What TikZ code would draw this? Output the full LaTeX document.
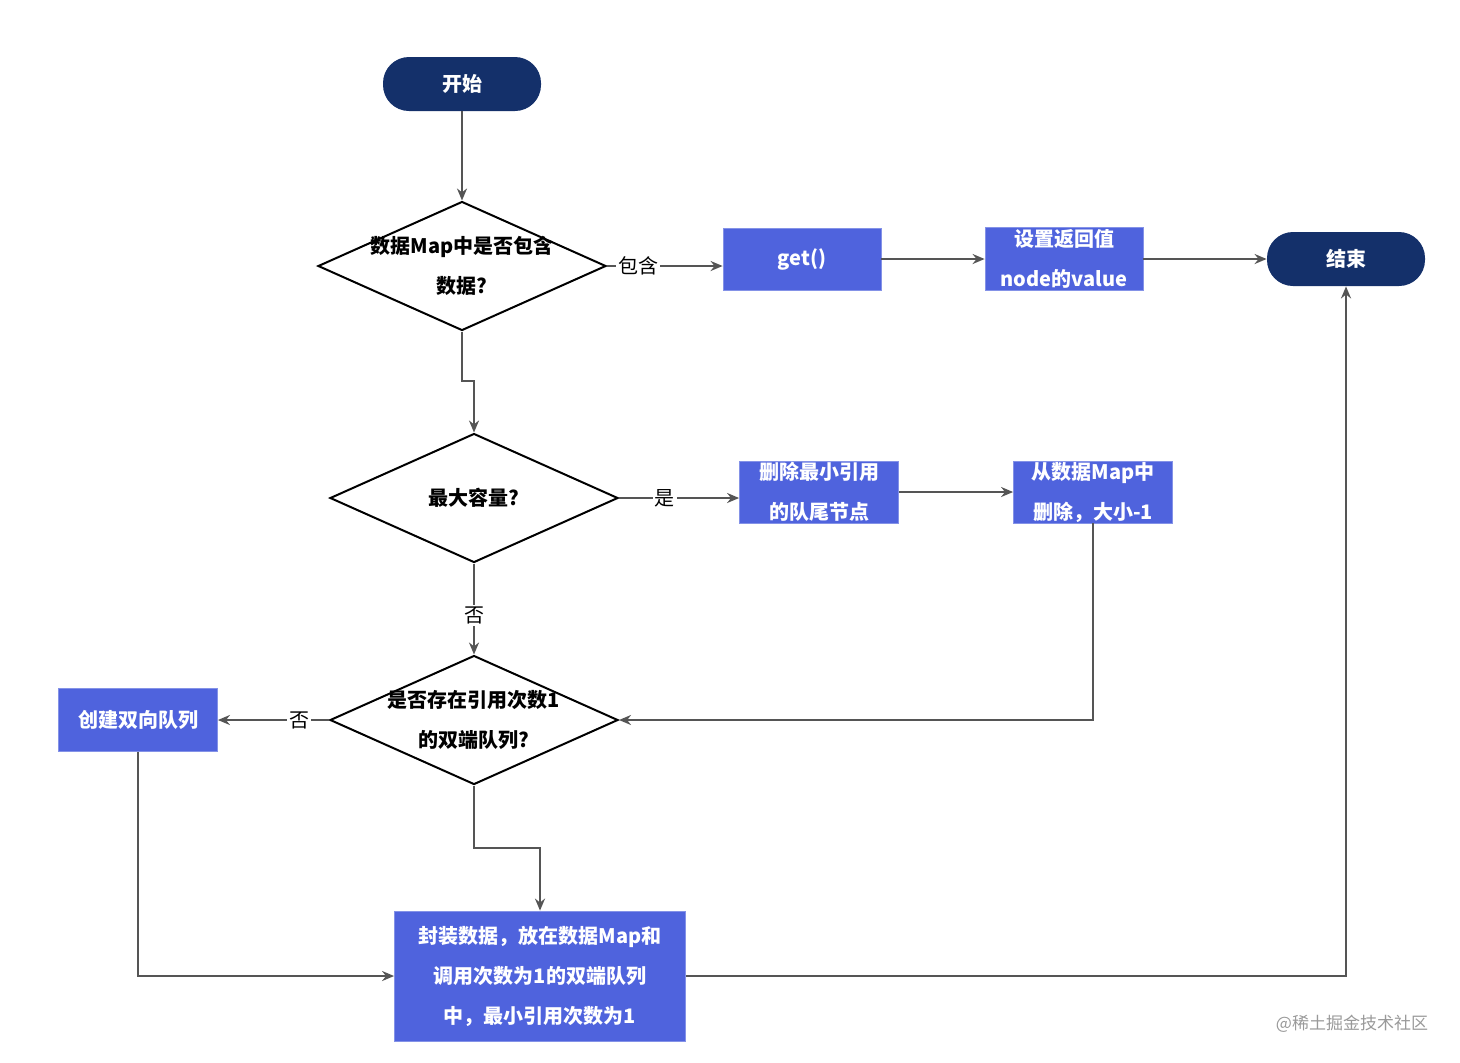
\documentclass[tikz,border=0pt]{standalone}
\usepackage{fontspec}
\setmainfont{Noto Sans CJK SC}
\usetikzlibrary{shapes.geometric,arrows.meta}
\definecolor{navy}{HTML}{14306A}
\definecolor{bluebox}{HTML}{4F63DD}
\definecolor{line}{HTML}{555555}
\begin{document}
\begin{tikzpicture}[x=0.5pt,y=-0.5pt,
  term/.style={rounded corners=13pt,fill=navy,text=white,minimum width=79pt,minimum height=27pt,font=\fontsize{10}{20}\selectfont\bfseries},
  box/.style={fill=bluebox,draw=bluebox!70!white,text=white,align=center,font=\fontsize{10}{20}\selectfont\bfseries,inner sep=0pt},
  dia/.style={diamond,draw=black,line width=1pt,minimum width=144pt,minimum height=64.5pt,inner sep=0pt},
  dtxt/.style={align=center,font=\fontsize{10}{20}\selectfont\bfseries},
  lab/.style={fill=white,inner sep=1pt,font=\fontsize{10}{12}\selectfont},
  arr/.style={draw=line,line width=1pt,-{Stealth[length=6pt,width=5pt]}}]
\useasboundingbox (0,0) rectangle (1460,1062);
\node[term] (start) at (462,84) {开始};
\node[dia] (d1) at (462,266) {};
\node[dtxt] (t1) at (462,266) {数据Map中是否包含\\数据?};
\node[box,minimum width=79pt,minimum height=31pt] (get) at (802,259) {get()};
\node[box,minimum width=79pt,minimum height=31.5pt] (set) at (1064,259) {设置返回值\\node的value};
\node[term] (end) at (1346,259) {结束};
\node[dia] (d2) at (474,498) {};
\node[dtxt] (t2) at (474,498) {最大容量?};
\node[box,minimum width=79.5pt,minimum height=31pt] (del) at (819,492) {删除最小引用\\的队尾节点};
\node[box,minimum width=79.5pt,minimum height=31pt] (from) at (1093,492) {从数据Map中\\删除，大小-1};
\node[dia] (d3) at (474,720) {};
\node[dtxt] (t3) at (474,720) {是否存在引用次数1\\的双端队列?};
\node[box,minimum width=79.5pt,minimum height=31.5pt] (create) at (138,720) {创建双向队列};
\node[box,minimum width=145.5pt,minimum height=65pt] (pack) at (540,976) {封装数据，放在数据Map和\\调用次数为1的双端队列\\中，最小引用次数为1};
\coordinate (a1) at (462,381); \coordinate (a2) at (474,381);
\coordinate (b1) at (1093,720);
\coordinate (c1) at (138,976);
\coordinate (e1) at (474,848); \coordinate (e2) at (540,848);
\coordinate (f1) at (1346,976);
\draw[arr] (start) -- (d1.north);
\draw[arr] (d1.east) -- node[lab,pos=0.27]{包含} (get.west |- d1.east);
\draw[arr] (get) -- (set);
\draw[arr] (set) -- (end);
\draw[arr] (d1.south) -- (a1) -- (a2) -- (d2.north);
\draw[arr] (d2.east) -- node[lab,pos=0.38]{是} (del.west |- d2.east);
\draw[arr] (del) -- (from);
\draw[arr] (from.south) -- (b1) -- (d3.east);
\draw[arr] (d2.south) -- node[lab,pos=0.57]{否} (d3.north);
\draw[arr] (d3.west) -- node[lab,pos=0.27]{否} (create.east);
\draw[arr] (create.south) -- (c1) -- (pack.west);
\draw[arr] (d3.south) -- (e1) -- (e2) -- (pack.north);
\draw[arr] (pack.east) -- (f1) -- (end.south);
\node[text=gray!80,font=\fontsize{8.5}{10}\selectfont] (wm) at (1352,1024) {@稀土掘金技术社区};
\end{tikzpicture}
\end{document}
